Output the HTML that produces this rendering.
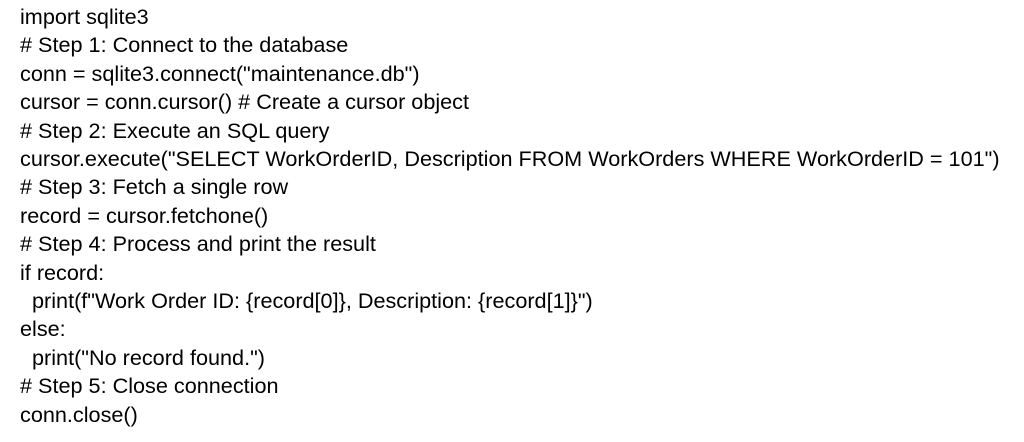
<!DOCTYPE html>
<html><head><meta charset="utf-8"><style>
html,body{margin:0;padding:0;background:#fff;width:1024px;height:442px;overflow:hidden}
.c{position:absolute;left:20px;top:4px;font-family:"Liberation Sans",Arial,sans-serif;font-size:21px;line-height:28.4px;color:#000;white-space:pre;transform:scaleX(1.03);transform-origin:0 0}
</style></head><body><div class="c">import sqlite3
# Step 1: Connect to the database
conn = sqlite3.connect("maintenance.db")
cursor = conn.cursor() # Create a cursor object
# Step 2: Execute an SQL query
cursor.execute("SELECT WorkOrderID, Description FROM WorkOrders WHERE WorkOrderID = 101")
# Step 3: Fetch a single row
record = cursor.fetchone()
# Step 4: Process and print the result
if record:
  print(f"Work Order ID: {record[0]}, Description: {record[1]}")
else:
  print("No record found.")
# Step 5: Close connection
conn.close()</div></body></html>
